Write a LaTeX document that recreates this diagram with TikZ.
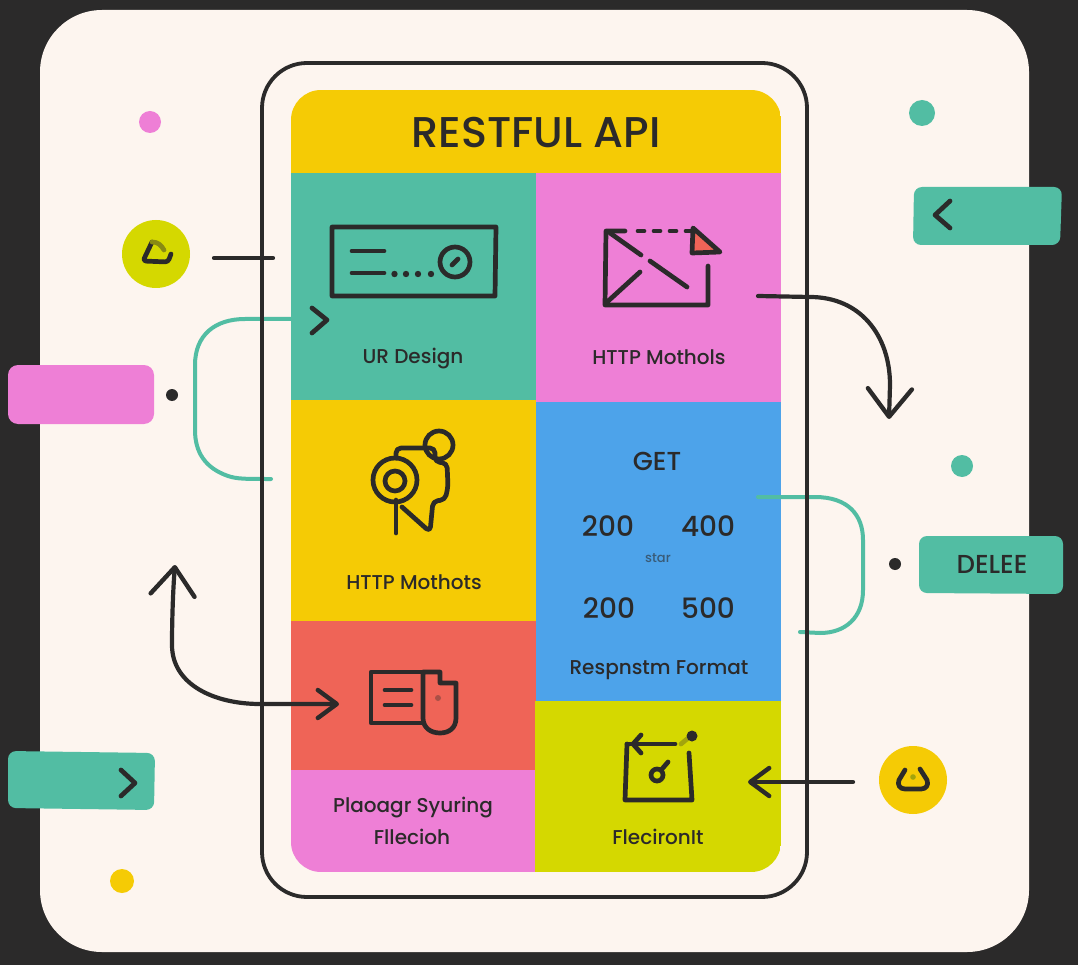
\documentclass[tikz,border=0pt]{standalone}
\usepackage{fontspec}
\setmainfont{Poppins Medium}
\usetikzlibrary{arrows.meta}
\definecolor{ink}{HTML}{2B2A2A}
\definecolor{paper}{HTML}{FDF5EF}
\definecolor{cteal}{HTML}{52BDA3}
\definecolor{cpink}{HTML}{EE7FD6}
\definecolor{cyellow}{HTML}{F5CB05}
\definecolor{cblue}{HTML}{4DA3EA}
\definecolor{cred}{HTML}{EF6457}
\definecolor{clime}{HTML}{D5D800}
\tikzset{
 icon/.style={draw=ink,line width=4.7pt,line cap=round,line join=round},
 link/.style={draw=ink,line width=4.2pt,line cap=round},
 tlink/.style={draw=cteal,line width=4pt,line cap=round},
 bigtip/.tip={Straight Barb[length=28pt,width=44pt,round,line width=4.4pt]},
 smalltip/.tip={Straight Barb[length=19pt,width=28pt,round,line width=4.4pt]},
 lbl/.style={text=ink,font=\fontsize{20}{24}\selectfont,inner sep=0pt,align=center},
 num/.style={text=ink,font=\fontsize{28}{32}\selectfont,inner sep=0pt},
 spot/.style={circle,inner sep=0pt},
}
\begin{document}
\begin{tikzpicture}[x=1pt,y=-1pt]
\useasboundingbox (0,0) rectangle (1078,965);
\fill[ink] (0,0) rectangle (1078,965);
\fill[paper,rounded corners=62pt] (40,10) rectangle (1029,952);
% decorative dots
\node[spot,fill=cpink,minimum size=22pt] (d1) at (150,122) {};
\node[spot,fill=cteal,minimum size=26pt] (d2) at (922,113) {};
\node[spot,fill=cteal,minimum size=22pt] (d3) at (962,466) {};
\node[spot,fill=cyellow,minimum size=24pt] (d4) at (122,881) {};
\node[spot,fill=ink,minimum size=12pt] (d5) at (172,395) {};
\node[spot,fill=ink,minimum size=12pt] (d6) at (895,564) {};
% side tags
\fill[cpink,rounded corners=10pt] (8,365) rectangle (154,424);
\fill[cteal,rounded corners=8pt] (914,187) -- (1062,187) -- (1060,245) -- (913,245) -- cycle;
\fill[cteal,rounded corners=8pt] (919,536) -- (1063,536) -- (1063,594) -- (919,593) -- cycle;
\fill[cteal,rounded corners=8pt] (8,751) -- (155,753) -- (154,810) -- (8,808) -- cycle;
\node[lbl,font=\fontsize{26}{30}\selectfont] (delee) at (992,564) {DELEE};
\draw[icon] (950,201) -- (935,215) -- (950,228);
\draw[icon] (121,770) -- (135,783) -- (121,796);
% side circles
\node[spot,fill=clime,minimum size=68pt] (c1) at (156,254) {};
\node[spot,fill=cyellow,minimum size=68pt] (c2) at (913,780) {};
\draw[icon,rounded corners=3pt] (152,242) -- (143,261) -- (168,262) -- (171,254);
\draw[icon,draw=ink!45!clime] (152,242) .. controls (158,242) and (161,245) .. (164,250);
\draw[icon] (905,770) -- (899,780) .. controls (897,785) and (900,789) .. (905,789) -- (921,789) .. controls (926,789) and (929,785) .. (927,780) -- (920,769);
\fill[ink!30!clime] (913,777) circle (2.8pt);
% teal connectors under the frame
\coordinate (t1a) at (271,479); \coordinate (t1b) at (300,319);
\coordinate (t2a) at (758,497); \coordinate (t2b) at (800,632);
% panel
\begin{scope}
\clip[rounded corners=30pt] (291,90) rectangle (781,872);
\fill[cyellow] (291,90) rectangle (781,174);
\fill[cteal] (291,173) rectangle (536,400);
\fill[cpink] (536,173) rectangle (781,402);
\fill[cyellow] (291,400) rectangle (536,621);
\fill[cblue] (535.5,402) rectangle (781,701);
\fill[cred] (291,621) rectangle (536,770);
\fill[cpink] (291,770) rectangle (536,872);
\fill[clime] (535,701) rectangle (781,872);
\end{scope}
\draw[tlink] (t1a) .. controls (245,479) and (237,479) .. (228,476) .. controls (205,468) and (195,452) .. (195,430) -- (195,365) .. controls (195,335) and (215,319) .. (245,319) -- (t1b);
\draw[tlink] (t2a) -- (815,497) .. controls (848,497) and (863,515) .. (863,540) -- (863,590) .. controls (863,618) and (845,633) .. (820,633) -- (t2b);
% frame
\node[draw=ink,line width=3.8pt,rounded corners=45pt,minimum width=545pt,minimum height=834pt,inner sep=0pt] (frame) at (534.5,480) {};
% titles
\node[text=ink,font=\fontsize{43}{48}\selectfont,inner sep=0pt] (title) at (536,133) {RESTFUL API};
\node[lbl] (l1) at (413,359) {UR Design};
\node[lbl] (l2) at (659,357) {HTTP Mothols};
\node[lbl] (l3) at (414,582) {HTTP Mothots};
\node[num,font=\fontsize{26}{30}\selectfont] (get) at (657,461) {GET};
\node[num] (n1) at (608,526) {200};
\node[num] (n2) at (708,526) {400};
\node[text=ink!60!cblue,font=\fontsize{13}{15}\selectfont,inner sep=0pt] (star) at (658,558) {star};
\node[num] (n3) at (609,608) {200};
\node[num] (n4) at (708,608) {500};
\node[lbl] (l4) at (659,670) {Respnstm Format};
\node[lbl] (l5) at (413,808) {Plaoagr Syuring};
\node[lbl] (l6) at (412,837) {Fllecioh};
\node[lbl] (l7) at (658,837) {FlecironIt};
% icon: URL bar
\draw[icon] (332,227) -- (496,227) -- (495,296) -- (332,296) -- cycle;
\draw[icon] (352,251) -- (384,251);
\draw[icon] (352,273) -- (384,273);
\foreach \x in {394.5,406,418,431}{\fill[ink] (\x,274) circle (3.2pt);}
\draw[icon] (455,262) circle (15pt);
\draw[icon] (452,265) -- (458,259);
% icon: envelope
\draw[icon] (625,231) -- (606,231) -- (605,305) -- (708,305) -- (708,266);
\draw[icon,dash pattern=on 6pt off 10pt] (638,231) -- (692,231);
\draw[icon,fill=cred] (693,228) -- (720,252) -- (692,253) -- cycle;
\draw[icon] (610,233) -- (641,255);
\draw[icon] (650,261) -- (687,287);
\draw[icon] (606,303) -- (640,272);
% icon: badge
\draw[icon] (395,480) circle (22pt);
\draw[icon] (395,481) circle (10pt);
\draw[icon] (439,445) circle (14pt);
\draw[icon] (396,533) -- (396,500);
\draw[icon,rounded corners=5pt] (402,507) -- (430,532) -- (433,501) -- (445,500) -- (448,487) -- (447,463) -- (435,462) -- (435,448) -- (396,448) -- (396,458);
% icon: document and tag
\draw[icon] (423,672) -- (371,672) -- (371,723) -- (423,723);
\draw[icon] (385,690) -- (411,690);
\draw[icon] (385,705) -- (411,705);
\draw[icon] (423,672) -- (423,718) .. controls (423,728) and (431,733) .. (440,733) .. controls (449,733) and (456,728) .. (456,718) -- (456,683) -- (440,683) -- (440,672) -- cycle;
\fill[ink!35!cred] (438,698) circle (3pt);
% icon: lime box
\draw[icon] (627,744) -- (625,800) -- (692,800) -- (689,753);
\draw[icon] (675,744) -- (627,744);
\draw[icon] (641,735) -- (633,744) -- (641,753);
\draw[icon,draw=ink!30!clime] (681,744) -- (687,739);
\fill[ink] (692,736) circle (5.5pt);
\draw[icon] (657,775) circle (6pt);
\draw[icon] (662,769) -- (668,762);
% connectors
\coordinate (p1) at (214,258); \coordinate (p2) at (273,258);
\coordinate (p3) at (758,296); \coordinate (p4) at (889,419);
\coordinate (p5) at (175,565); \coordinate (p6) at (339,704);
\coordinate (p7) at (853,782); \coordinate (p8) at (748,782);
\draw[link] (p1) -- (p2);
\draw[link,-{bigtip}] (p3) -- (810,297) .. controls (860,297) and (890,335) .. (890,385) -- (p4);
\draw[link,{bigtip}-{smalltip}] (p5) .. controls (173,590) and (172,620) .. (172,645) .. controls (172,685) and (215,704) .. (260,704) -- (p6);
\draw[link,-{smalltip}] (p7) -- (p8);
\draw[icon] (312,308) -- (327,320) -- (312,333);
\end{tikzpicture}
\end{document}
